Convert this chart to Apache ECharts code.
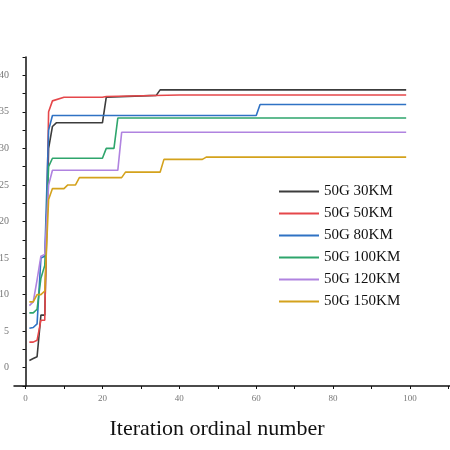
<!DOCTYPE html>
<html>
<head>
<meta charset="utf-8">
<script src="https://cdn.jsdelivr.net/npm/echarts@6/dist/echarts.min.js"></script>
<style>html,body{margin:0;padding:0;background:#fff}#chart{width:450px;height:450px}</style>
</head>
<body>
<div id="chart"></div>
<script>
// 每条曲线的 [迭代次数, 值] 点
var names = ['50G 30KM', '50G 50KM', '50G 80KM', '50G 100KM', '50G 120KM', '50G 150KM'];
var colors = ['#3c3c3c', '#e5474a', '#2f72c4', '#2ea56c', '#b083e0', '#d4a21c'];
var yTickLabels = ['0', '5', '10', '15', '20', '25', '30', '35', '40'];
var xTicks = [0, 10, 20, 30, 40, 50, 60, 70, 80, 90, 100, 110];
var xLabels = [0, 20, 40, 60, 80, 100];

var s30 = [[1, 2], [2, 2.5], [3, 3], [4, 14.4], [5, 14.4], [6, 60], [7, 66], [8, 67], [20, 67], [21, 74], [34, 74.5], [35, 76], [99, 76]];
var s50 = [[1, 7], [2, 7], [3, 7.5], [4, 13], [5, 13], [6, 70], [7, 73], [10, 74], [20, 74], [21, 74.2], [40, 74.6], [99, 74.6]];
var s80 = [[1, 10.8], [2, 11], [3, 12], [4, 30], [5, 30.5], [6, 65], [7, 69], [60, 69], [61, 72], [99, 72]];
var s100 = [[1, 15], [2, 15], [3, 16], [4, 24.5], [5, 28], [6, 55], [7, 57.3], [20, 57.3], [21, 60], [23, 60], [24, 68.3], [99, 68.3]];
var s120 = [[1, 17], [2, 18], [3, 24], [4, 30.5], [5, 31], [6, 50], [7, 54], [24, 54], [25, 64.4], [99, 64.4]];
var s150 = [[1, 18], [2, 18], [3, 20], [4, 20], [5, 21], [6, 46], [7, 49], [10, 49], [11, 50], [13, 50], [14, 52], [25, 52], [26, 53.5], [35, 53.5], [36, 57], [46, 57], [47, 57.6], [99, 57.6]];
var seriesData = [s30, s50, s80, s100, s120, s150];

var myChart = echarts.init(document.getElementById('chart'));

var series = [];
for (var i = 0; i < names.length; i++) {
    series.push({
        name: names[i],
        type: 'line',
        data: seriesData[i],
        showSymbol: false,
        lineStyle: { width: 1.6, color: colors[i] },
        itemStyle: { color: colors[i] }
    });
}

var option = {
    animation: false,
    grid: { left: 14, right: 0, top: 57, bottom: 64, containLabel: false, outerBoundsMode: 'none' },
    legend: {
        data: names,
        orient: 'vertical',
        left: 274,
        top: 179,
        itemWidth: 40,
        itemHeight: 10,
        itemGap: 7,
        icon: 'path://M0,4 L40,4 L40,6 L0,6 Z',
        textStyle: { fontFamily: 'Liberation Serif', fontSize: 15, color: '#111' }
    },
    xAxis: {
        type: 'value',
        min: -3,
        max: 110.4,
        name: 'Iteration ordinal number',
        nameLocation: 'middle',
        nameGap: 32,
        nameTextStyle: { fontFamily: 'Liberation Serif', fontSize: 22, color: '#111', padding: [0, 30, 0, 0] },
        axisLine: { onZero: false, lineStyle: { color: '#111', width: 1.5 } },
        axisTick: { length: 3, customValues: xTicks, lineStyle: { color: '#111' } },
        axisLabel: {
            fontFamily: 'Liberation Serif', fontSize: 9, color: '#777', customValues: xLabels
        },
        splitLine: { show: false }
    },
    yAxis: {
        type: 'value',
        min: -5,
        max: 85,
        interval: 5,
        axisLine: { show: true, lineStyle: { color: '#111', width: 1.5 } },
        axisTick: { show: true, length: 3, lineStyle: { color: '#111' } },
        axisLabel: {
            fontFamily: 'Liberation Serif', fontSize: 10, color: '#777', margin: 5,
            formatter: function (v) {
                if (v < 0 || v % 10 !== 0) return '';
                return yTickLabels[v / 10];
            }
        },
        splitLine: { show: false }
    },
    series: series
};

myChart.setOption(option);
</script>
</body>
</html>
